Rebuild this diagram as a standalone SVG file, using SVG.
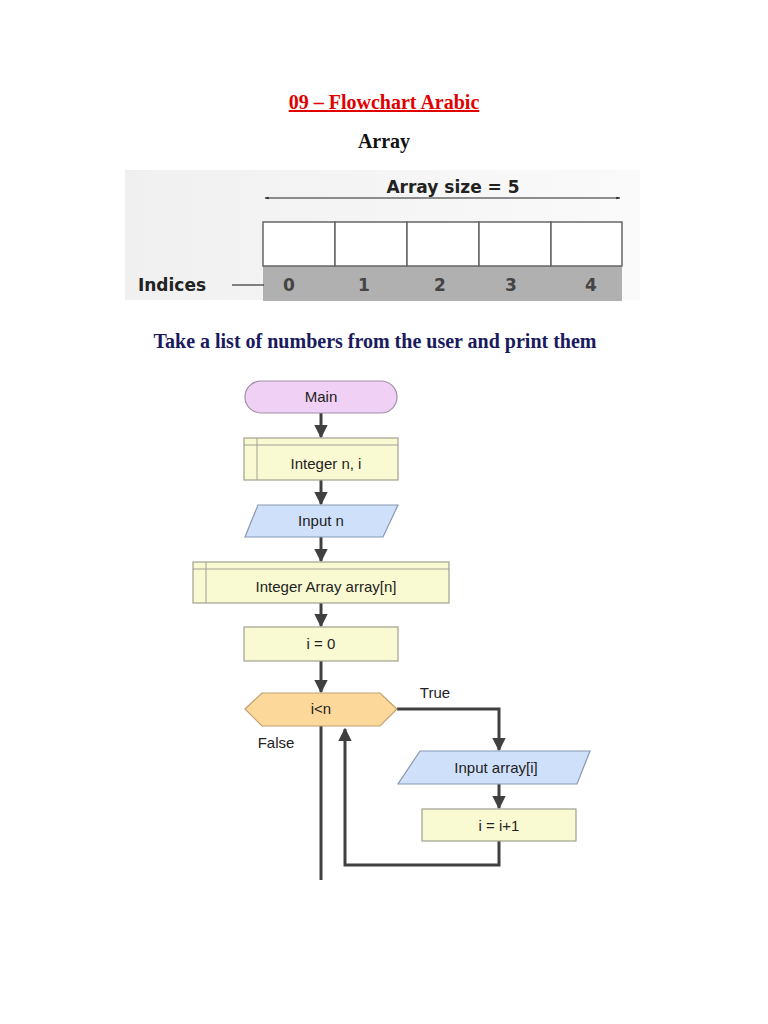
<svg xmlns="http://www.w3.org/2000/svg" width="768" height="1024" viewBox="0 0 768 1024">
<defs>
<linearGradient id="bg" x1="0" y1="0" x2="1" y2="0"><stop offset="0" stop-color="#f0f0f0"/><stop offset="1" stop-color="#fafafa"/></linearGradient>
<marker id="ah" viewBox="0 0 10 10" refX="9" refY="5" markerWidth="4.5" markerHeight="4.5" orient="auto"><path d="M0,0L10,5L0,10z" fill="#404040"/></marker>
<marker id="sa" viewBox="0 0 10 10" refX="9" refY="5" markerWidth="6" markerHeight="4" orient="auto-start-reverse"><path d="M0,2L10,5L0,8z" fill="#222"/></marker>
</defs>
<style>
.f{font-family:"Liberation Sans",Arial,sans-serif;font-size:15px;fill:#222;text-anchor:middle}
.y{fill:#fafad2;stroke:#a0a090;stroke-width:1.2}
.b{fill:#cfe0fa;stroke:#8898b0;stroke-width:1.2}
.c{stroke:#404040;stroke-width:3;fill:none}
.cell{fill:#fff;stroke:#666;stroke-width:1.5}
.idx{font-family:"DejaVu Sans",sans-serif;font-size:17px;font-weight:bold;fill:#444;text-anchor:middle}
</style>
<rect width="768" height="1024" fill="#fff"/>
<text x="384" y="109" text-anchor="middle" font-family="Liberation Serif,serif" font-weight="bold" font-size="20" fill="#e00000" text-decoration="underline">09 – Flowchart Arabic</text>
<text x="384" y="148" text-anchor="middle" font-family="Liberation Serif,serif" font-weight="bold" font-size="20" fill="#111">Array</text>
<g id="array">
<rect x="125" y="170" width="515" height="130" fill="url(#bg)"/>
<text x="453" y="193" class="idx" style="fill:#222;font-size:17px">Array size = 5</text>
<line x1="265" y1="198" x2="620" y2="198" stroke="#222" stroke-width="1" marker-start="url(#sa)" marker-end="url(#sa)"/>
<rect x="263" y="266" width="359" height="35" fill="#b0b0b0"/>
<rect x="263" y="222" width="72" height="44" class="cell"/>
<rect x="335" y="222" width="72" height="44" class="cell"/>
<rect x="407" y="222" width="72" height="44" class="cell"/>
<rect x="479" y="222" width="72" height="44" class="cell"/>
<rect x="551" y="222" width="71" height="44" class="cell"/>
<text x="172" y="291" class="idx" style="fill:#222">Indices</text>
<line x1="232" y1="285" x2="264" y2="285" stroke="#333" stroke-width="1.2"/>
<text x="289" y="291" class="idx">0</text><text x="364" y="291" class="idx">1</text><text x="440" y="291" class="idx">2</text><text x="511" y="291" class="idx">3</text><text x="591" y="291" class="idx">4</text>
</g>
<text x="375" y="348" text-anchor="middle" font-family="Liberation Serif,serif" font-weight="bold" font-size="20" fill="#1a1a5e">Take a list of numbers from the user and print them</text>
<g id="connectors">
<line x1="321" y1="413" x2="321" y2="437" class="c" marker-end="url(#ah)"/>
<line x1="321" y1="480" x2="321" y2="504" class="c" marker-end="url(#ah)"/>
<line x1="321" y1="537" x2="321" y2="561" class="c" marker-end="url(#ah)"/>
<line x1="321" y1="603" x2="321" y2="626" class="c" marker-end="url(#ah)"/>
<line x1="321" y1="661" x2="321" y2="692" class="c" marker-end="url(#ah)"/>
<polyline points="397,709 499,709 499,750" class="c" marker-end="url(#ah)"/>
<line x1="499" y1="784" x2="499" y2="808" class="c" marker-end="url(#ah)"/>
<polyline points="499,841 499,865 345,865 345,729" class="c" marker-end="url(#ah)"/>
<line x1="321" y1="726" x2="321" y2="880" class="c"/>
<text x="435" y="698" class="f">True</text>
<text x="276" y="748" class="f">False</text>
</g>
<g id="main"><rect x="245" y="381" width="152" height="32" rx="16" fill="#f0d0f5" stroke="#a090a8" stroke-width="1.2"/><text x="321" y="402" class="f">Main</text></g>
<g id="decl1"><rect x="244" y="438" width="154" height="42" class="y"/><line x1="257" y1="438" x2="257" y2="480" stroke="#a0a090"/><line x1="244" y1="445" x2="398" y2="445" stroke="#a0a090"/><text x="326" y="469" class="f">Integer n, i</text></g>
<g id="inputn"><polygon points="258,505 398,505 383,537 245,537" class="b"/><text x="321" y="526" class="f">Input n</text></g>
<g id="decl2"><rect x="193" y="562" width="256" height="41" class="y"/><line x1="206" y1="562" x2="206" y2="603" stroke="#a0a090"/><line x1="193" y1="569" x2="449" y2="569" stroke="#a0a090"/><text x="326" y="592" class="f">Integer Array array[n]</text></g>
<g id="init"><rect x="244" y="627" width="154" height="34" class="y"/><text x="321" y="649" class="f">i = 0</text></g>
<g id="cond"><polygon points="245,709 262,693 380,693 397,709 380,726 262,726" fill="#fcd89a" stroke="#c0a070" stroke-width="1.2"/><text x="321" y="714" class="f">i&lt;n</text></g>
<g id="inputarr"><polygon points="420,751 590,751 577,784 398,784" class="b"/><text x="496" y="773" class="f">Input array[i]</text></g>
<g id="inc"><rect x="422" y="809" width="154" height="32" class="y"/><text x="499" y="831" class="f">i = i+1</text></g>
</svg>
